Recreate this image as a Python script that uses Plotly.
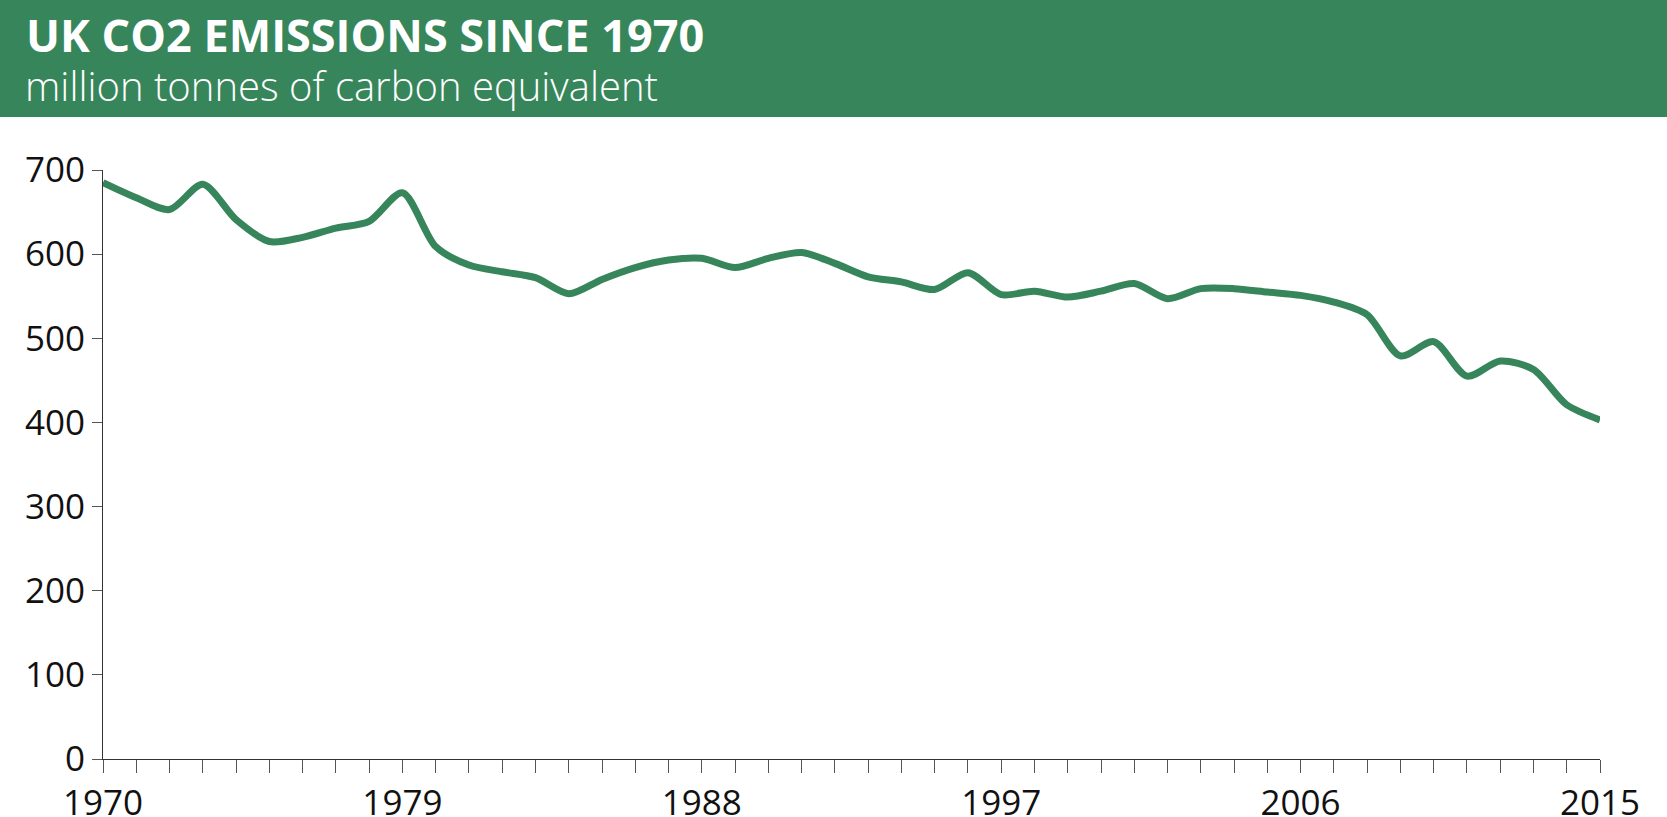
"""
UK CO2 emissions since 1970 - Plotly line chart
"""

import plotly.graph_objects as go

# data
years = list(range(1970, 2016))
emissions = [
    685, 667, 653, 683, 641, 615, 620, 631, 639, 673,
    609, 587, 579, 572, 553, 570, 584, 593, 595, 584,
    595, 602, 589, 573, 567, 558, 578, 552, 556, 549,
    556, 565, 547, 559, 559, 555, 551, 543, 528, 479,
    496, 455, 473, 463, 421, 403,
]
label_years = [1970, 1979, 1988, 1997, 2006, 2015]
y_ticks = [0, 100, 200, 300, 400, 500, 600, 700]

TITLE = "UK CO2 EMISSIONS SINCE 1970"
SUBTITLE = "million tonnes of carbon equivalent"

GREEN = "#37865b"
W, H = 1667, 817
M_L, M_R, M_T, M_B = 103, 67, 170, 58
PLOT_W = W - M_L - M_R
PLOT_H = H - M_T - M_B


def px_x(px):
    # pixel -> paper (x)
    return (px - M_L) / PLOT_W


def px_y(py):
    # pixel (from top) -> paper (y)
    return (H - M_B - py) / PLOT_H


fig = go.Figure()

fig.add_trace(go.Scatter(
    x=years,
    y=emissions,
    mode="lines",
    line=dict(color=GREEN, width=7, shape="spline", smoothing=0.8),
    hoverinfo="x+y",
    showlegend=False,
))

# ヘッダー帯
fig.add_shape(
    type="rect", xref="paper", yref="paper",
    x0=px_x(0), x1=px_x(W), y0=px_y(117), y1=px_y(0),
    fillcolor=GREEN, line=dict(width=0), layer="below",
)

fig.add_annotation(
    text=f"<b>{TITLE}</b>",
    xref="paper", yref="paper",
    x=px_x(24), y=px_y(35), xanchor="left", yanchor="middle",
    showarrow=False,
    font=dict(family="Open Sans, sans-serif", size=45, color="white", weight=700),
)
fig.add_annotation(
    text=SUBTITLE,
    xref="paper", yref="paper",
    x=px_x(23), y=px_y(85), xanchor="left", yanchor="middle",
    showarrow=False,
    font=dict(family="Open Sans, sans-serif", size=40, color="white", weight=300),
)

tick_font = dict(family="Open Sans, sans-serif", size=35, color="#111111")

fig.update_layout(
    width=W,
    height=H,
    margin=dict(l=M_L, r=M_R, t=M_T, b=M_B, pad=0),
    paper_bgcolor="white",
    plot_bgcolor="white",
    xaxis=dict(
        range=[1970, 2015],
        tickvals=label_years,
        ticktext=[str(y) for y in label_years],
        ticks="outside",
        ticklen=13,
        tickcolor="#555555",
        tickwidth=1,
        minor=dict(dtick=1, tick0=1970, ticks="outside", ticklen=13,
                   tickcolor="#555555", tickwidth=1, showgrid=False),
        showline=True,
        linecolor="#333333",
        linewidth=1,
        showgrid=False,
        zeroline=False,
        tickfont=tick_font,
        automargin=False,
        fixedrange=True,
    ),
    yaxis=dict(
        range=[0, 700],
        tickvals=y_ticks,
        ticks="outside",
        ticklen=10,
        tickcolor="#555555",
        tickwidth=1,
        showline=True,
        linecolor="#333333",
        linewidth=1,
        showgrid=False,
        zeroline=False,
        tickfont=tick_font,
        automargin=False,
        fixedrange=True,
    ),
)

# ページ余白を消す
fig.write_html("out.html", config={"displayModeBar": False},
               post_script="document.body.style.margin='0';")
